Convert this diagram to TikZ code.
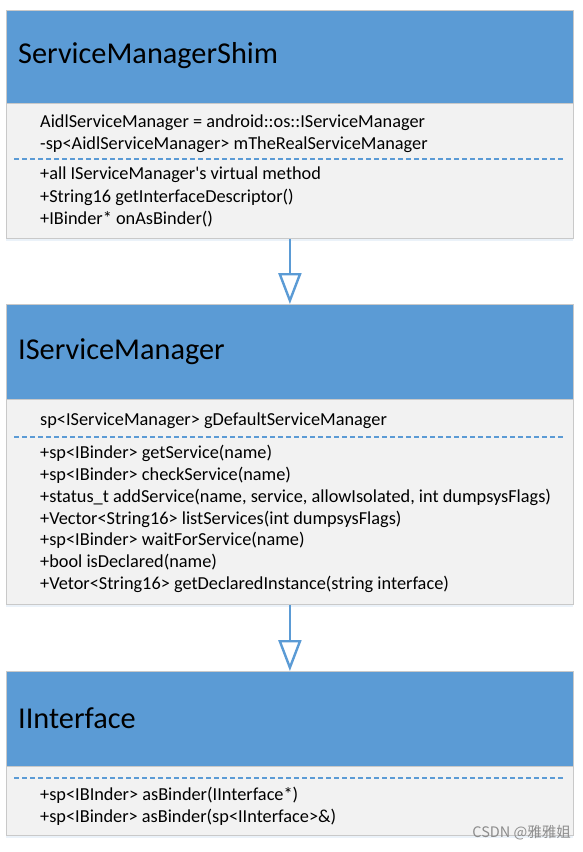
\documentclass[tikz,border=0pt]{standalone}
\usepackage{fontspec}
\setmainfont{Carlito}
\newfontfamily\cjk{Noto Sans CJK SC}
\usetikzlibrary{arrows.meta,shadows}
\definecolor{hdrblue}{HTML}{5B9BD5}
\definecolor{bodygray}{HTML}{F2F2F2}
\definecolor{edgegray}{HTML}{C9C9C9}
\definecolor{arrowblue}{HTML}{5B9BD5}
\tikzset{
  hdrbox/.style={draw=edgegray, fill=hdrblue, line width=0.8pt, minimum width=567pt, inner sep=0pt, anchor=north west},
  bodybox/.style={draw=edgegray, fill=bodygray, line width=0.8pt, minimum width=567pt, inner sep=0pt, anchor=north west,
     drop shadow={opacity=0.12, shadow xshift=0pt, shadow yshift=-3pt, fill=hdrblue}},
  hdrtext/.style={anchor=west, inner sep=0pt, font=\fontsize{30.3}{34}\selectfont, text=black},
  linetext/.style={anchor=west, inner sep=0pt, font=\fontsize{18.3}{21}\selectfont, text=black},
  sepline/.style={draw=hdrblue, line width=1.6pt, dash pattern=on 5pt off 3pt},
  inherit/.style={draw=arrowblue, line width=2.4pt, -{Triangle[open, length=31pt, width=23pt, fill=white]}},
}
\begin{document}
\begin{tikzpicture}[x=1pt,y=-1pt]
\useasboundingbox[fill=white] (0,0) rectangle (582,852);

% ---- ServiceManagerShim ----
\node[bodybox, minimum height=135pt] (b1body) at (6,103) {};
\node[hdrbox, minimum height=93pt] (b1head) at (6,10) {};
\node[hdrtext] (t1) at (18,56) {ServiceManagerShim};
\node[linetext] (l11) at (40,123) {AidlServiceManager = android::os::IServiceManager};
\node[linetext] (l12) at (40,145) {-sp<AidlServiceManager> mTheRealServiceManager};
\coordinate (d1a) at (14,159);
\coordinate (d1b) at (564,159);
\draw[sepline] (d1a) -- (d1b);
\node[linetext] (l13) at (40,175) {+all IServiceManager\textquotesingle s virtual method};
\node[linetext] (l14) at (40,197) {+String16 getInterfaceDescriptor()};
\node[linetext] (l15) at (40,219) {+IBinder* onAsBinder()};

% ---- IServiceManager ----
\node[bodybox, minimum height=205pt] (b2body) at (6,399) {};
\node[hdrbox, minimum height=95pt] (b2head) at (6,304) {};
\node[hdrtext] (t2) at (18,352) {IServiceManager};
\node[linetext] (l21) at (40,421) {sp<IServiceManager> gDefaultServiceManager};
\coordinate (d2a) at (14,437);
\coordinate (d2b) at (564,437);
\draw[sepline] (d2a) -- (d2b);
\node[linetext] (l22) at (40,453) {+sp<IBinder> getService(name)};
\node[linetext] (l23) at (40,475) {+sp<IBinder> checkService(name)};
\node[linetext] (l24) at (40,497) {+status\_t addService(name, service, allowIsolated, int dumpsysFlags)};
\node[linetext] (l25) at (40,519) {+Vector<String16> listServices(int dumpsysFlags)};
\node[linetext] (l26) at (40,540) {+sp<IBinder> waitForService(name)};
\node[linetext] (l27) at (40,562) {+bool isDeclared(name)};
\node[linetext] (l28) at (40,584) {+Vetor<String16> getDeclaredInstance(string interface)};

% ---- IInterface ----
\node[bodybox, minimum height=69pt] (b3body) at (6,766) {};
\node[hdrbox, minimum height=95pt] (b3head) at (6,671) {};
\node[hdrtext] (t3) at (18,718) {IInterface};
\coordinate (d3a) at (14,778);
\coordinate (d3b) at (564,778);
\draw[sepline] (d3a) -- (d3b);
\node[linetext] (l31) at (40,795) {+sp<IBInder> asBinder(IInterface*)};
\node[linetext] (l32) at (40,817) {+sp<IBinder> asBinder(sp<IInterface>\&)};

% ---- connectors ----
\draw[inherit] (b1body.south) -- (b2head.north);
\draw[inherit] (b2body.south) -- (b3head.north);

% ---- watermark ----
\node[anchor=east, inner sep=0pt, text=black!45, font=\cjk\fontsize{14.5}{16}\selectfont] (wm) at (571,833) {CSDN @雅雅姐};
\end{tikzpicture}
\end{document}
